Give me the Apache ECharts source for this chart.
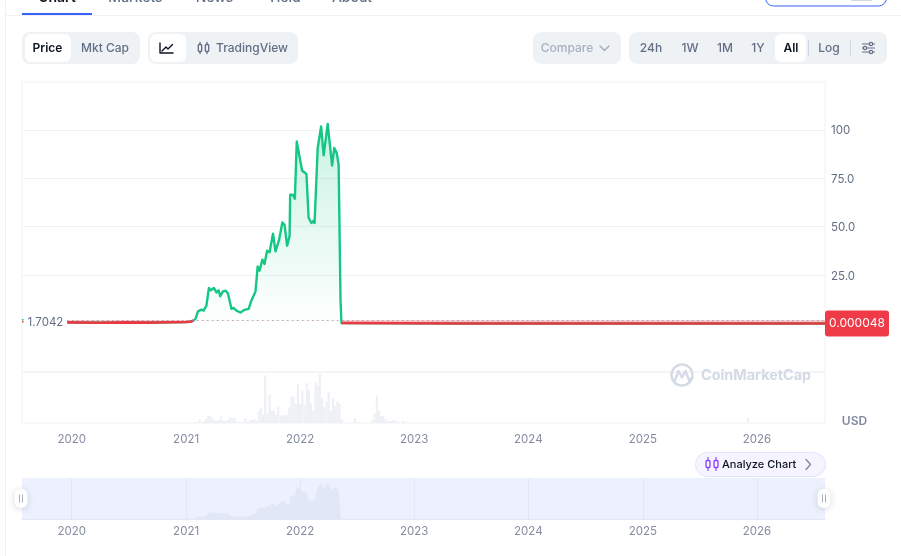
<!DOCTYPE html>
<html>
<head>
<meta charset="utf-8">
<script src="https://cdn.jsdelivr.net/npm/echarts@6/dist/echarts.min.js"></script>
<style>html,body{margin:0;padding:0;background:#fff}#c{width:901px;height:556px}</style>
</head>
<body>
<div id="c"></div>
<script>
const yearTicks = [2020, 2021, 2022, 2023, 2024, 2025, 2026];
const priceTicks = [25, 50, 75, 100];
const axisStart = '2019-07-26';
const axisEnd = '2026-08-07';
const baseline = 1.7042;
const lastPrice = 0.000048;

const priceDates = [
 '2019-12-18','2020-04-01','2020-06-15','2020-09-01','2020-11-15','2021-01-01','2021-01-13','2021-01-24','2021-01-31','2021-02-08',
 '2021-02-19','2021-02-26','2021-03-07','2021-03-15','2021-03-21','2021-03-31','2021-04-08','2021-04-15','2021-04-20','2021-04-29',
 '2021-05-07','2021-05-15','2021-05-26','2021-06-02','2021-06-11','2021-06-24','2021-07-07','2021-07-20','2021-07-28','2021-08-11',
 '2021-08-18','2021-08-24','2021-09-02','2021-09-09','2021-09-17','2021-09-25','2021-10-06','2021-10-14','2021-10-25','2021-11-05',
 '2021-11-12','2021-11-20','2021-11-28','2021-11-30','2021-12-08','2021-12-15','2021-12-21','2022-01-07','2022-01-21','2022-01-28',
 '2022-02-06','2022-02-12','2022-02-16','2022-02-26','2022-03-09','2022-03-17','2022-03-30','2022-04-05','2022-04-13','2022-04-20',
 '2022-04-28','2022-05-04','2022-05-10','2022-05-13','2023-06-01','2024-06-01','2025-06-01','2026-08-07'
];
const priceValues = [
 0.6,0.4,0.6,0.5,0.7,0.8,0.9,1.5,2.4,6.3,
 7.2,6.7,9.3,18.4,17.2,18.4,16.1,17.2,14.1,16.6,
 17,15.5,7.6,8.1,6.7,5.7,7.1,7.6,11.5,16.6,
 29.5,27.3,33,30.8,37.6,36.8,46.4,37.3,42.9,52.2,
 51,40.2,45,66.5,66.5,64.4,94,79,77.2,54.5,
 51.9,53,51.9,90.6,101.7,86.8,103.1,103.5,81.6,90.6,
 88,82,12,0.3,0.0002,0.0001,0.00007,0.000048
];

const volumeFirstWeek = '2021-01-30';
const volumeWeekly = [
 3,3,10,3,4,12,22,22,13,7,6,9,20,7,6,9,17,14,17,4,2,1,1,14,3,8,9,12,6,35,
 47,25,143,30,85,37,37,25,50,22,24,22,25,47,80,78,58,118,58,98,52,120,98,60,37,122,113,147,75,47,
 65,92,37,75,50,65,57,10,1,1,0,1,1,14,1,3,0,0,0,0,0,10,28,83,37,20,20,12,7,5,
 7,10,5,3,0,7,3
];
const lateVolumeDates = ['2025-12-03'];
const lateVolumeValues = [15];

const tabs = [['Chart',57,true],['Markets',135.5,false],['News',214.5,false],['Yield',284,false],['About',352,false]];
const ranges = [['24h',651],['1W',690],['1M',725],['1Y',758],['All',791],['Log',829]];

const ts = d => new Date(d + 'T00:00:00Z').getTime();
const DAY = 864e5;
const priceSeries = priceDates.map((d, i) => [ts(d), priceValues[i]]);
const redSeries = priceDates.map((d, i) => [ts(d), priceValues[i] <= baseline ? priceValues[i] : null]);
const volumeSeries = volumeWeekly.map((v, i) => [ts(volumeFirstWeek) + i * 7 * DAY, v])
  .concat(lateVolumeDates.map((d, i) => [ts(d), lateVolumeValues[i]]));
const yearValues = yearTicks.map(y => Date.UTC(y, 0, 1));
const yearFmt = v => String(new Date(v).getUTCFullYear());

const FF = 'Inter, sans-serif';
const GREY = '#eff2f5', TXT = '#616e85', DARK = '#0d1421', LINE = '#eff2f5';
const g = [];
const rect = (x, y, w, h, r, fill, extra) => g.push(Object.assign({type:'rect', silent:true, shape:{x, y, width:w, height:h, r}, style:{fill}}, extra || {}));
const text = (t, x, y, font, fill, align) => g.push({type:'text', silent:true, x, y, style:{text:t, font:font + ' ' + FF, fill, align:align||'center', verticalAlign:'middle', textAlign:align||'center', textVerticalAlign:'middle'}});
const poly = (pts, stroke, w) => g.push({type:'polyline', silent:true, shape:{points:pts}, style:{stroke, fill:'none', lineWidth:w||1.5, lineCap:'round', lineJoin:'round'}});
const candle = (x, c) => {
  [[x+1.5,48],[x+8.5,48]].forEach(p => { rect(p[0]-1.7, p[1]-3.5, 3.4, 7, 1, 'none', {style:{fill:'none', stroke:c, lineWidth:1.3}});});
  poly([[x+1.5,42.5],[x+1.5,44.5]], c, 1.3); poly([[x+1.5,51.5],[x+1.5,53.5]], c, 1.3);
  poly([[x+8.5,42.5],[x+8.5,44.5]], c, 1.3); poly([[x+8.5,51.5],[x+8.5,53.5]], c, 1.3);
};

// page chrome
rect(5, 0, 1, 556, 0, LINE);
rect(6, 15, 895, 1, 0, LINE);
rect(22, 13, 70, 2, 0, '#3861fb');
tabs.forEach(t => text(t[0], t[1], -2, (t[2] ? '600' : '500') + ' 14px', t[2] ? DARK : TXT));
g.push({type:'rect', silent:true, shape:{x:765.5, y:-12, width:121, height:18, r:8}, style:{fill:'#fff', stroke:'#3861fb', lineWidth:1}});
rect(850, -6, 23, 7, 3, '#cfd6e4');

// toolbar left
rect(22, 32, 118, 32, 8, GREY);
rect(25, 34, 46, 28, 6, '#fff');
text('Price', 47.5, 48, '600 12px', DARK);
text('Mkt Cap', 105, 48, '500 12px', TXT);
rect(148, 32, 150, 32, 8, GREY);
rect(150, 34, 36, 28, 6, '#fff');
poly([[160,43],[160,53],[173,53]], DARK, 1.4);
poly([[162,51],[166,47],[168,49],[172.5,44.5]], DARK, 1.4);
candle(198.5, TXT);
text('TradingView', 216, 48, '500 12px', TXT, 'left');

// toolbar right
rect(533, 32, 88, 32, 8, GREY);
text('Compare', 567, 48, '500 12px', '#a6b0c3');
poly([[600,46],[604.5,50.5],[609,46]], '#a6b0c3', 1.5);
rect(629, 32, 258, 32, 8, GREY);
rect(775, 34, 31, 28, 6, '#fff');
ranges.forEach(r => text(r[0], r[1], 48, (r[0]==='All' ? '600' : '500') + ' 12px', r[0]==='All' ? DARK : TXT));
rect(808, 40, 1, 16, 0, '#cfd6e4');
rect(850, 40, 1, 16, 0, '#cfd6e4');
[[44,871],[48,865],[52,871]].forEach(p => {
  poly([[862.5,p[0]],[874.5,p[0]]], TXT, 1.2);
  g.push({type:'circle', silent:true, shape:{cx:p[1], cy:p[0], r:1.7}, style:{fill:GREY, stroke:TXT, lineWidth:1.2}});
});

// axis title, watermark, analyze button
text('USD', 854.5, 421, '600 12px', '#808a9d');
g.push({type:'arc', silent:true, shape:{cx:682, cy:375, r:10.5, startAngle:-1.2, endAngle:5.0}, style:{stroke:'#d3dae6', fill:'none', lineWidth:2.4, lineCap:'round'}});
poly([[675,380],[678.5,371],[682,377.5],[685.5,371],[689,380],[692.5,378]], '#d3dae6', 2.4);
text('CoinMarketCap', 701, 376, '700 14.4px', '#d3dae6', 'left');

g.push({type:'rect', silent:true, shape:{x:695.5, y:452.5, width:130, height:24, r:12}, style:{fill:'#f6f5ff', stroke:'#e2e4fb', lineWidth:1}});
[[708,464],[716,464]].forEach(p => {
  g.push({type:'rect', silent:true, shape:{x:p[0]-2, y:p[1]-3.5, width:4, height:7, r:1}, style:{fill:'none', stroke:'#8a3ffc', lineWidth:1.3}});
  poly([[p[0],p[1]-6.5],[p[0],p[1]-3.5]], '#8a3ffc', 1.1);
  poly([[p[0],p[1]+3.5],[p[0],p[1]+6.5]], '#8a3ffc', 1.1);
});
text('Analyze Chart', 722, 464.5, '500 11px', DARK, 'left');
poly([[806,459.5],[810.5,464.5],[806,469.5]], '#808a9d', 1.4);

// tiny baseline marks at the axis edge
rect(22, 319, 1.5, 1.5, 0, '#16c784');
rect(22, 321, 1.5, 1.5, 0, '#ea3943');

// navigator handles
[21, 824].forEach(x => {
  rect(x-6.5, 489, 13, 19, 6, '#fff', {style:{fill:'#fff', shadowBlur:6, shadowColor:'rgba(88,102,126,0.25)', shadowOffsetY:1}});
  rect(x-2, 494.5, 1, 8, 0, '#a6b0c3');
  rect(x+1, 494.5, 1, 8, 0, '#a6b0c3');
});

const axisLabelStyle = {color:'#858ca2', fontFamily:FF, fontSize:11.5};

const maxP = Math.max(...priceValues);
const split = (maxP - baseline) / (maxP - lastPrice);

const option = {
  animation:false,
  backgroundColor:'#fff',
  textStyle:{fontFamily:FF},
  grid:[
    {left:22, right:76, top:82, height:290, show:true, borderColor:LINE, borderWidth:1, z:0},
    {left:22, right:76, top:372, height:51, show:true, borderColor:LINE, borderWidth:1, z:0},
    {left:22, right:76, top:478, height:41, show:true, backgroundColor:'#edf1fd', borderWidth:0, z:0}
  ],
  xAxis:[
    {type:'value', gridIndex:0, min:ts(axisStart), max:ts(axisEnd), show:false},
    {type:'value', gridIndex:1, min:ts(axisStart), max:ts(axisEnd),
      axisLine:{show:false}, axisTick:{show:false, customValues:yearValues}, splitLine:{show:false},
      axisLabel:Object.assign({customValues:yearValues, formatter:yearFmt, margin:11, hideOverlap:false}, axisLabelStyle)},
    {type:'value', gridIndex:2, min:ts(axisStart), max:ts(axisEnd),
      axisLine:{show:true, lineStyle:{color:'#e1e7f6'}}, axisTick:{show:false, customValues:yearValues},
      splitLine:{show:true, lineStyle:{color:'#e1e7f6', width:1}},
      axisLabel:Object.assign({customValues:yearValues, formatter:yearFmt, margin:7, hideOverlap:false}, axisLabelStyle)}
  ],
  yAxis:[
    {type:'value', gridIndex:0, position:'right', min:-25, max:124.7,
      axisLine:{show:false}, axisTick:{show:false, customValues:priceTicks},
      splitLine:{show:true, lineStyle:{color:LINE, width:1}},
      axisLabel:Object.assign({customValues:priceTicks, margin:6, verticalAlign:'top', padding:[-5,0,0,0], formatter:v => Number(v).toFixed(v===100?0:1)}, axisLabelStyle, {color:'#616e85'})},
    {type:'value', gridIndex:1, min:0, max:153, show:false},
    {type:'value', gridIndex:2, min:0, max:117, show:false}
  ],
  series:[
    {type:'line', xAxisIndex:0, yAxisIndex:0, data:priceSeries, showSymbol:false, symbol:'none',
      lineStyle:{width:2.4, join:'round', color:'#16c784'}, z:5,
      areaStyle:{origin:baseline, color:new echarts.graphic.LinearGradient(0,0,0,1,[
        {offset:0, color:'rgba(22,199,132,0.32)'},
        {offset:split, color:'rgba(22,199,132,0.01)'},
        {offset:split, color:'rgba(234,57,67,0.45)'},
        {offset:1, color:'rgba(234,57,67,0.45)'}])},
      markLine:{silent:true, symbol:'none', animation:false, z:7, data:[
        [{coord:[priceSeries[0][0], baseline],
          lineStyle:{type:[1,4], color:'#808a9d', width:1},
          label:{show:true, position:'start', formatter:String(baseline), color:'#616e85', fontFamily:FF, fontSize:11.5, distance:4, offset:[0,2]}},
         {coord:[ts(axisEnd), baseline]}],
        [{coord:[priceSeries[0][0], lastPrice],
          lineStyle:{color:'rgba(0,0,0,0)', width:1},
          label:{show:true, position:'end', formatter:lastPrice.toFixed(6), color:'#fff', fontFamily:FF, fontSize:12, fontWeight:400,
            backgroundColor:'#ef3a48', borderRadius:3, width:64, height:26, lineHeight:26, align:'center', padding:0, distance:32}},
         {coord:[ts(axisEnd), lastPrice]}]
      ]}},
    {type:'line', xAxisIndex:0, yAxisIndex:0, data:redSeries, showSymbol:false, symbol:'none', silent:true,
      connectNulls:false, lineStyle:{width:2.6, join:'round', color:'#ea3943'}, z:6},
    {type:'bar', xAxisIndex:1, yAxisIndex:1, data:volumeSeries, barWidth:2, itemStyle:{color:'#eceff4'}, silent:true},
    {type:'line', xAxisIndex:2, yAxisIndex:2, data:priceSeries, showSymbol:false, symbol:'none', silent:true,
      lineStyle:{width:0}, areaStyle:{color:'#e1e7f6', opacity:1}, z:3}
  ],
  graphic:{elements:g}
};
const chart = echarts.init(document.getElementById('c'), null, {renderer:'canvas'});
chart.setOption(option);
</script>
</body>
</html>
